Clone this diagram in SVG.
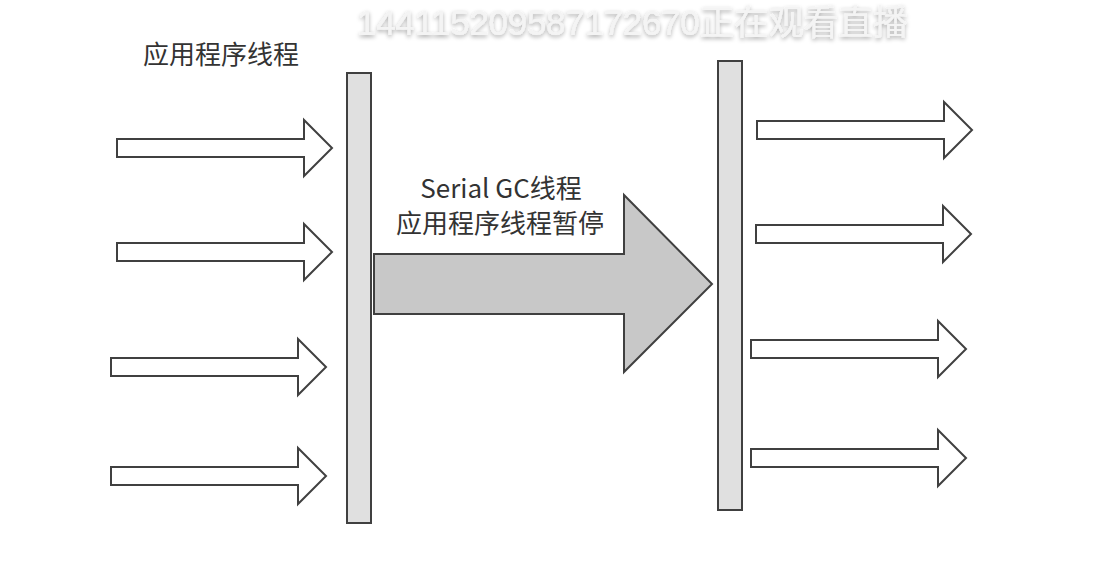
<svg xmlns="http://www.w3.org/2000/svg" width="1096" height="584" viewBox="0 0 1096 584">
<style>
.a{fill:#fff;stroke:#404040;stroke-width:2;stroke-linejoin:miter}
.bar{fill:#e0e0e0;stroke:#404040;stroke-width:2}
.t{font-family:"Noto Sans CJK SC","Noto Sans",sans-serif;font-size:26px;fill:#333}
</style>
<defs>
<path id="ar" d="M0,-9 H187 V-28 L215,0 L187,28 V9 H0 Z"/>
<filter id="sh"><feDropShadow dx="0" dy="2" stdDeviation="2" flood-color="#000" flood-opacity="0.35"/></filter>
</defs>
<rect width="1096" height="584" fill="#fff"/>
<text x="357" y="35" font-family="Liberation Sans,'Noto Sans CJK SC',sans-serif" font-size="35" letter-spacing="-0.3" fill="#f4f4f4" filter="url(#sh)">144115209587172670正在观看直播</text>
<g id="label-app"><text class="t" x="143" y="64">应用程序线程</text></g>
<g id="connectors">
<use href="#ar" class="a" x="117" y="148"/>
<use href="#ar" class="a" x="117" y="252"/>
<use href="#ar" class="a" x="111" y="367"/>
<use href="#ar" class="a" x="111" y="476"/>
<use href="#ar" class="a" x="757" y="130"/>
<use href="#ar" class="a" x="756" y="234"/>
<use href="#ar" class="a" x="751" y="349"/>
<use href="#ar" class="a" x="751" y="458"/>
</g>
<g id="bar-left"><rect class="bar" x="347" y="73" width="24" height="450"/></g>
<g id="bar-right"><rect class="bar" x="718" y="61" width="24" height="449"/></g>
<g id="gc-arrow">
<path d="M374,254 H624 V195 L712,284 L624,372 V314 H374 Z" fill="#c8c8c8" stroke="#404040" stroke-width="2"/>
<text class="t" x="501" y="198" text-anchor="middle">Serial GC线程</text>
<text class="t" x="500" y="233" text-anchor="middle">应用程序线程暂停</text>
</g>
</svg>
